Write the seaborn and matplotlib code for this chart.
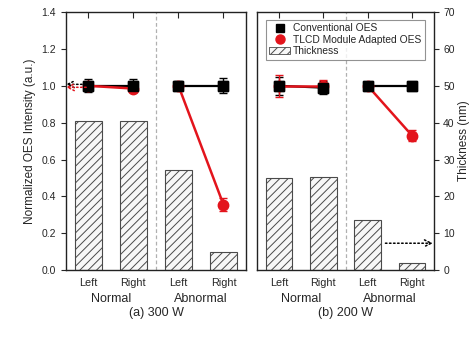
import matplotlib
matplotlib.use("Agg")
import matplotlib.pyplot as plt
import seaborn as sns
import pandas as pd
import numpy as np
from matplotlib.lines import Line2D
from matplotlib.patches import Patch

sns.set_theme(style="ticks")
plt.rcParams['font.family'] = ['Liberation Sans', 'DejaVu Sans']

# Categories
positions = ["Left", "Right", "Left ", "Right "]
groups = ["Normal", "Abnormal"]

# (a) 300 W  -- normalized units
thk_300 = [0.81, 0.81, 0.545, 0.10]
conv_300 = [1.0, 1.0, 1.0, 1.0]
conv_300_err = [0.035, 0.035, 0.025, 0.04]
tlcd_300 = [1.0, 0.985, 1.0, 0.355]
tlcd_300_err = [0.02, 0.02, 0.02, 0.035]

# (b) 200 W  -- thickness units (nm)
thk_200 = [25.0, 25.2, 13.7, 1.9]
conv_200 = [50.0, 49.5, 50.0, 50.0]
conv_200_err = [2.5, 1.8, 0.6, 0.6]
tlcd_200 = [50.0, 50.0, 50.0, 36.5]
tlcd_200_err = [3.0, 1.5, 0.4, 1.5]

RED = "#e3141c"
HATCH_EDGE = "#4a4a4a"
BAR_FACE = "#f7f7f7"

plt.rcParams['hatch.color'] = HATCH_EDGE
plt.rcParams['hatch.linewidth'] = 0.7

fig = plt.figure(figsize=(4.74, 3.45), dpi=100)
axL = fig.add_axes([0.139, 0.217, 0.380, 0.748])
axR = fig.add_axes([0.542, 0.217, 0.374, 0.748])


def draw_panel(ax, thk, conv, conv_err, tlcd, tlcd_err):
    df = pd.DataFrame({"pos": positions, "thk": thk})
    sns.barplot(data=df, x="pos", y="thk", ax=ax, width=0.6,
                color=BAR_FACE, edgecolor=HATCH_EDGE, linewidth=0.8,
                hatch="////", saturation=1, zorder=2)
    x = np.arange(4)
    for seg in (slice(0, 2), slice(2, 4)):
        ax.errorbar(x[seg], conv[seg], yerr=conv_err[seg], color="black",
                    lw=1.6, marker="s", ms=6.5, capsize=3, capthick=1,
                    elinewidth=1, zorder=4)
        ax.errorbar(x[seg], tlcd[seg], yerr=tlcd_err[seg], color=RED,
                    lw=1.8, marker="o", ms=7.5, capsize=3, capthick=1,
                    elinewidth=1, zorder=5)
        ax.plot(x[seg], conv[seg], ls="none", marker="s", ms=6.5,
                color="black", zorder=6)
    ax.axvline(1.5, color="#b0b0b0", ls=(0, (3, 2)), lw=0.9, zorder=1)
    ax.set_xlim(-0.5, 3.5)
    ax.set_xlabel("")
    ax.set_ylabel("")
    ax.set_xticks(x)
    ax.set_xticklabels(["Left", "Right", "Left", "Right"], fontsize=7.8)
    ax.tick_params(axis="x", direction="in", top=True, bottom=True,
                   length=4, pad=6, width=0.8)
    for s in ax.spines.values():
        s.set_linewidth(1.0)
        s.set_color("#222222")
    ax.text(0.5, -0.112, "Normal", transform=ax.get_xaxis_transform(),
            ha="center", va="center", fontsize=9)
    ax.text(2.5, -0.112, "Abnormal", transform=ax.get_xaxis_transform(),
            ha="center", va="center", fontsize=9)


draw_panel(axL, thk_300, conv_300, conv_300_err, tlcd_300, tlcd_300_err)
draw_panel(axR, thk_200, conv_200, conv_200_err, tlcd_200, tlcd_200_err)

# left panel y axis
axL.set_ylim(0, 1.4)
yt = np.arange(0, 1.41, 0.2)
axL.set_yticks(yt)
axL.set_yticklabels([f"{v:.1f}" for v in yt], fontsize=7.5)
axL.tick_params(axis="y", direction="out", length=3.5, width=0.8)
axL.set_ylabel("Normalized OES Intensity (a.u.)", fontsize=8.5, labelpad=4)
axL.text(1.5, -0.168, "(a) 300 W", transform=axL.get_xaxis_transform(),
         ha="center", va="center", fontsize=9)

# dotted arrows pointing to the left axis
axL.annotate("", xy=(-0.5, 1.008), xytext=(-0.05, 1.008),
             arrowprops=dict(arrowstyle="->", color="black", ls=":", lw=1.1,
                             shrinkA=0, shrinkB=0), zorder=7)
axL.annotate("", xy=(-0.5, 0.992), xytext=(-0.05, 0.992),
             arrowprops=dict(arrowstyle="->", color=RED, ls=":", lw=1.1,
                             shrinkA=0, shrinkB=0), zorder=7)

# right panel y axis (thickness)
axR.set_ylim(0, 70)
axR.yaxis.tick_right()
axR.yaxis.set_label_position("right")
axR.set_yticks(np.arange(0, 71, 10))
axR.set_yticklabels([str(v) for v in range(0, 71, 10)], fontsize=7.5)
axR.tick_params(axis="y", direction="out", length=3.5, width=0.8, pad=3,
                left=False, right=True)
axR.set_ylabel("Thickness (nm)", fontsize=8.5, labelpad=2, rotation=90)
axR.text(1.5, -0.168, "(b) 200 W", transform=axR.get_xaxis_transform(),
         ha="center", va="center", fontsize=9)

axR.annotate("", xy=(3.47, 7.3), xytext=(2.4, 7.3),
             arrowprops=dict(arrowstyle="->", color="black", ls=":", lw=1.1,
                             shrinkA=0, shrinkB=0), zorder=7)

# legend
handles = [
    Line2D([], [], ls="none", marker="s", ms=5.5, color="black"),
    Line2D([], [], ls="none", marker="o", ms=6.5, color=RED),
    Patch(facecolor=BAR_FACE, edgecolor=HATCH_EDGE, hatch="////", lw=0.6),
]
leg = axR.legend(handles, ["Conventional OES", "TLCD Module Adapted OES", "Thickness"],
                 loc="upper left", bbox_to_anchor=(0.05, 0.97), fontsize=7.4,
                 frameon=True, fancybox=False, borderpad=0.35, labelspacing=0.15,
                 handlelength=2.0, handletextpad=0.3, borderaxespad=0)
leg.get_frame().set_edgecolor("#777777")
leg.get_frame().set_linewidth(0.8)

fig.savefig("out.png", dpi=100)
